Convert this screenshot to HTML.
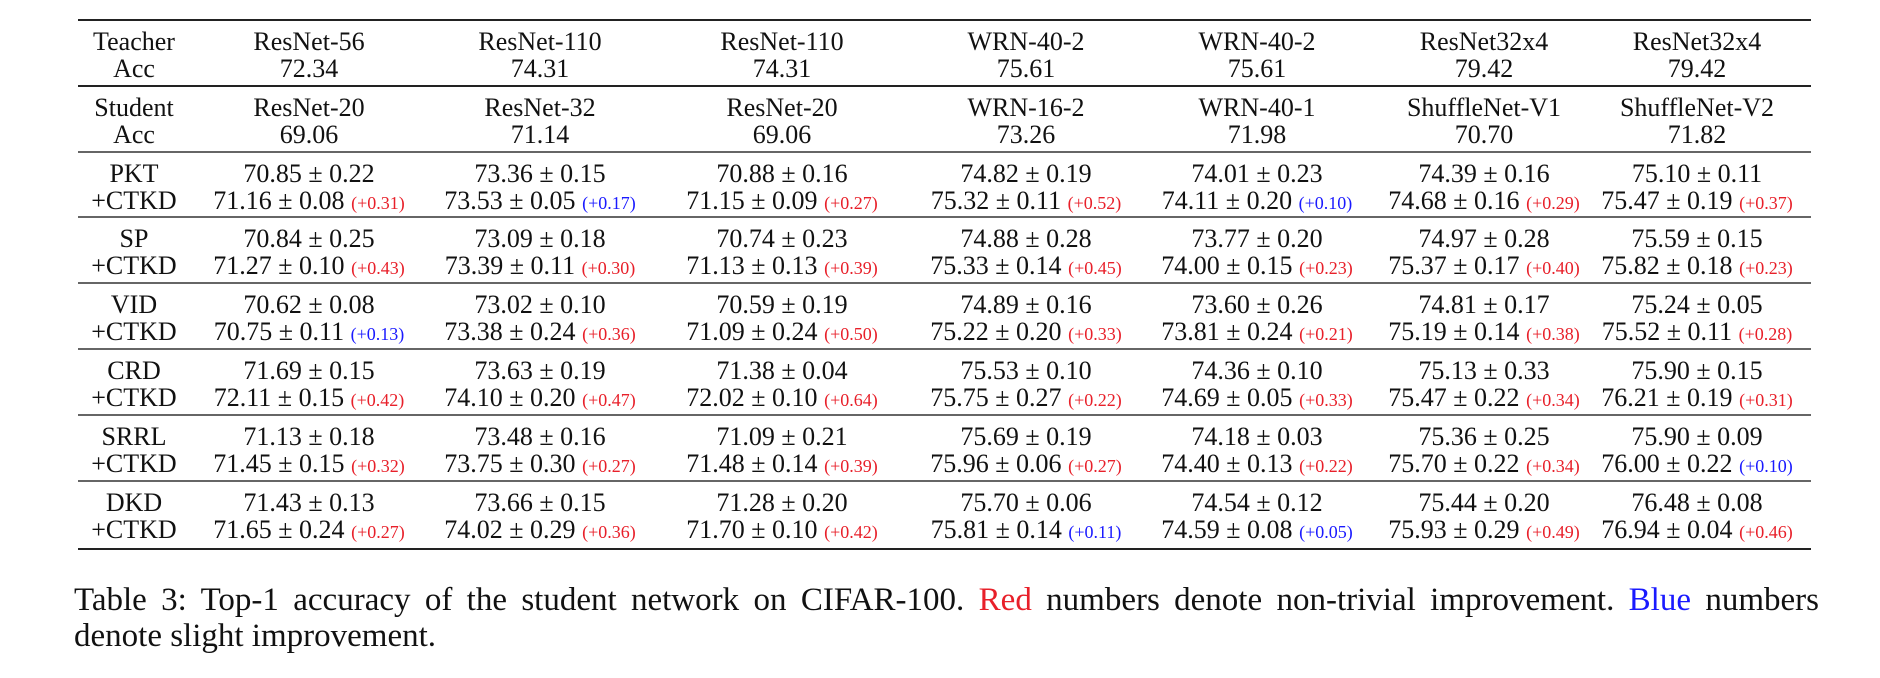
<!DOCTYPE html>
<html><head><meta charset="utf-8"><style>
body{margin:0;width:1880px;height:678px;background:#fff;position:relative;overflow:hidden;font-family:"Liberation Serif",serif;color:#111}
.c{position:absolute;white-space:nowrap;font-size:26px;transform:translate(-50%,-50%);line-height:1}
.r{position:absolute;left:78px;width:1733px;background:#222}
.d{font-size:18px}
.red{color:#e8202a}.blue{color:#1a1aff}
#cap{position:absolute;left:74px;top:582px;width:1745px;font-size:33px;line-height:36px;color:#111}
#cap .l1{display:block;text-align:justify;text-align-last:justify;white-space:nowrap}
</style></head><body>
<div id="t"></div>
<div id="cap"><span class="l1">Table 3: Top-1 accuracy of the student network on CIFAR-100. <span style="color:#e8202a">Red</span> numbers denote non-trivial improvement. <span style="color:#1a1aff">Blue</span> numbers</span>denote slight improvement.</div>
<script>
const cols=[134,309,540,782,1026,1257,1484,1697];
const teachers=["ResNet-56","ResNet-110","ResNet-110","WRN-40-2","WRN-40-2","ResNet32x4","ResNet32x4"];
const teacherAcc=["72.34","74.31","74.31","75.61","75.61","79.42","79.42"];
const students=["ResNet-20","ResNet-32","ResNet-20","WRN-16-2","WRN-40-1","ShuffleNet-V1","ShuffleNet-V2"];
const studentAcc=["69.06","71.14","69.06","73.26","71.98","70.70","71.82"];
const methods=["PKT","SP","VID","CRD","SRRL","DKD"];
const base=[
["70.85 ± 0.22","73.36 ± 0.15","70.88 ± 0.16","74.82 ± 0.19","74.01 ± 0.23","74.39 ± 0.16","75.10 ± 0.11"],
["70.84 ± 0.25","73.09 ± 0.18","70.74 ± 0.23","74.88 ± 0.28","73.77 ± 0.20","74.97 ± 0.28","75.59 ± 0.15"],
["70.62 ± 0.08","73.02 ± 0.10","70.59 ± 0.19","74.89 ± 0.16","73.60 ± 0.26","74.81 ± 0.17","75.24 ± 0.05"],
["71.69 ± 0.15","73.63 ± 0.19","71.38 ± 0.04","75.53 ± 0.10","74.36 ± 0.10","75.13 ± 0.33","75.90 ± 0.15"],
["71.13 ± 0.18","73.48 ± 0.16","71.09 ± 0.21","75.69 ± 0.19","74.18 ± 0.03","75.36 ± 0.25","75.90 ± 0.09"],
["71.43 ± 0.13","73.66 ± 0.15","71.28 ± 0.20","75.70 ± 0.06","74.54 ± 0.12","75.44 ± 0.20","76.48 ± 0.08"]];
const ctkd=[
["71.16 ± 0.08","73.53 ± 0.05","71.15 ± 0.09","75.32 ± 0.11","74.11 ± 0.20","74.68 ± 0.16","75.47 ± 0.19"],
["71.27 ± 0.10","73.39 ± 0.11","71.13 ± 0.13","75.33 ± 0.14","74.00 ± 0.15","75.37 ± 0.17","75.82 ± 0.18"],
["70.75 ± 0.11","73.38 ± 0.24","71.09 ± 0.24","75.22 ± 0.20","73.81 ± 0.24","75.19 ± 0.14","75.52 ± 0.11"],
["72.11 ± 0.15","74.10 ± 0.20","72.02 ± 0.10","75.75 ± 0.27","74.69 ± 0.05","75.47 ± 0.22","76.21 ± 0.19"],
["71.45 ± 0.15","73.75 ± 0.30","71.48 ± 0.14","75.96 ± 0.06","74.40 ± 0.13","75.70 ± 0.22","76.00 ± 0.22"],
["71.65 ± 0.24","74.02 ± 0.29","71.70 ± 0.10","75.81 ± 0.14","74.59 ± 0.08","75.93 ± 0.29","76.94 ± 0.04"]];
const delta=[
["+0.31","+0.17","+0.27","+0.52","+0.10","+0.29","+0.37"],
["+0.43","+0.30","+0.39","+0.45","+0.23","+0.40","+0.23"],
["+0.13","+0.36","+0.50","+0.33","+0.21","+0.38","+0.28"],
["+0.42","+0.47","+0.64","+0.22","+0.33","+0.34","+0.31"],
["+0.32","+0.27","+0.39","+0.27","+0.22","+0.34","+0.10"],
["+0.27","+0.36","+0.42","+0.11","+0.05","+0.49","+0.46"]];
const t=document.getElementById('t');
function cell(x,y,html,name){const e=document.createElement('div');e.className='c';e.style.left=x+'px';e.style.top=y+'px';e.innerHTML=html;


t.appendChild(e);}
function rule(y,h,c,name){const e=document.createElement('div');e.className='r';e.style.top=y+'px';e.style.height=h+'px';e.style.background=c;


t.appendChild(e);}
const rules=[19,85,151,216,282,348,414,480,548];
rules.forEach((y,i)=>rule(y,(i==0||i==8)?2:(i==2?2:1.5),(i==0||i==8||i==1)?'#222':'#666','table-rule'));
function block(top,l1,l2,a,b,name){cell(cols[0],top+23,l1,name+'-label');cell(cols[0],top+50,l2,name+'-label');
for(let j=0;j<7;j++){cell(cols[j+1],top+23,a[j],name+'-cell');cell(cols[j+1],top+50,b[j],name+'-cell');}}
block(rules[0],"Teacher","Acc",teachers,teacherAcc,'teacher');
block(rules[1],"Student","Acc",students,studentAcc,'student');
methods.forEach((m,i)=>{
 const b=ctkd[i].map((v,j)=>{const d=parseFloat(delta[i][j]);const cls=d<=0.17?'blue':'red';return v+' <span class="d '+cls+'">('+delta[i][j]+')</span>';});
 block(rules[i+2],m,"+CTKD",base[i],b,m.toLowerCase()+'-row');
});
</script>
</body></html>
